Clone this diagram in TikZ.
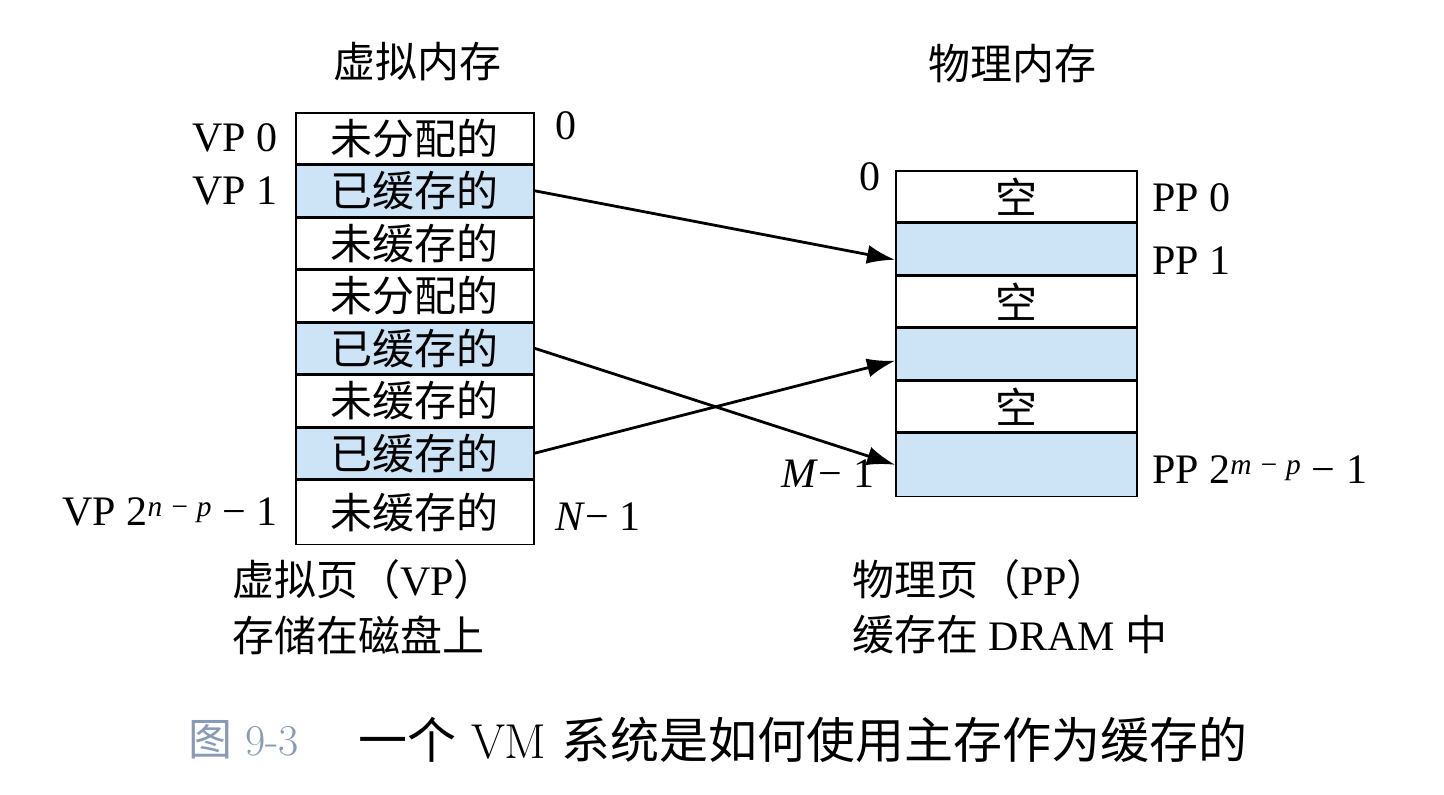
\documentclass[tikz,border=0pt]{standalone}
\usepackage{fontspec}
\newfontfamily\cjk{Noto Sans CJK SC}
\newfontfamily\tms{Liberation Serif}
\usetikzlibrary{positioning,arrows.meta}
\definecolor{pageblue}{RGB}{204,228,246}
\definecolor{capblue}{RGB}{135,155,185}
\tikzset{
  vpage/.style={draw, line width=1.5pt, fill=white, minimum width=238pt, minimum height=51pt,
    inner sep=0pt, anchor=north west, font=\cjk\fontsize{42}{42}\selectfont},
  ppage/.style={vpage, minimum width=241pt},
  cached/.style={fill=pageblue},
  lab/.style={inner sep=0pt, font=\tms\fontsize{42}{42}\selectfont},
  maplink/.style={-{Latex[length=28pt,width=19pt]}, line width=2.8pt},
}
\begin{document}
\begin{tikzpicture}[x=1pt,y=-1pt]
\useasboundingbox (0,0) rectangle (1444,795);
% Titles
\node[lab] (vtitle) at (417,62) {\cjk 虚拟内存};
\node[lab] (ptitle) at (1012,64) {\cjk 物理内存};
% Virtual pages
\node[vpage] (vp0) at (295,112) {未分配的};
\node[vpage, cached] (vp1) at (vp0.south west) {已缓存的};
\node[vpage] (vp2) at (vp1.south west) {未缓存的};
\node[vpage] (vp3) at (vp2.south west) {未分配的};
\node[vpage, cached] (vp4) at (vp3.south west) {已缓存的};
\node[vpage] (vp5) at (vp4.south west) {未缓存的};
\node[vpage, cached] (vp6) at (vp5.south west) {已缓存的};
\node[vpage, minimum height=64pt] (vp7) at (vp6.south west) {未缓存的};
\node[lab, left=17pt of vp0] (vp0lab) {VP 0};
\node[lab, left=17pt of vp1] (vp1lab) {VP 1};
\node[lab, left=17pt of vp7] (vp7lab) {VP 2\textsuperscript{\itshape n − p} − 1};
\node[lab] (vtop) at (566,126) {0};
\node[lab] (vbot) at (598,517) {\textit{N}− 1};
% Physical pages
\node[ppage] (pp0) at (895,170) {空};
\node[ppage, cached] (pp1) at (pp0.south west) {};
\node[ppage] (pp2) at (pp1.south west) {空};
\node[ppage, cached] (pp3) at (pp2.south west) {};
\node[ppage] (pp4) at (pp3.south west) {空};
\node[ppage, cached, minimum height=63pt] (pp5) at (pp4.south west) {};
\node[lab, anchor=west] (pp0lab) at (1152,198) {PP 0};
\node[lab, anchor=west] (pp1lab) at (1152,261) {PP 1};
\node[lab, anchor=west] (pp5lab) at (1152,470) {PP 2\textsuperscript{\itshape m − p} − 1};
\node[lab] (ptop) at (870,177) {0};
\node[lab] (pbot) at (828,474) {\textit{M}− 1};
% Mapping arrows
\draw[maplink] (vp1.east) -- ([yshift=-11pt]pp1.west);
\draw[maplink] (vp4.east) -- (pp5.west);
\draw[maplink] (vp6.east) -- ([yshift=-7pt]pp3.west);
% Notes
\node[lab, anchor=west] (vpnote) at (232,580) {{\cjk 虚拟页（}VP{\cjk ）}};
\node[lab, anchor=west] (vpdisk) at (232,635) {\cjk 存储在磁盘上};
\node[lab, anchor=west] (ppnote) at (852,580) {{\cjk 物理页（}PP{\cjk ）}};
\node[lab, anchor=west] (ppdram) at (852,635) {{\cjk 缓存在} DRAM {\cjk 中}};
% Caption
\node[anchor=west, inner sep=0pt, text=capblue, font=\fontsize{44}{44}\selectfont] (fignum) at (188,740) {{\cjk 图} 9-3};
\node[anchor=west, inner sep=0pt, font=\fontsize{49}{49}\selectfont] (figcap) at (358,740) {{\cjk 一个} VM {\cjk 系统是如何使用主存作为缓存的}};
\end{tikzpicture}
\end{document}
